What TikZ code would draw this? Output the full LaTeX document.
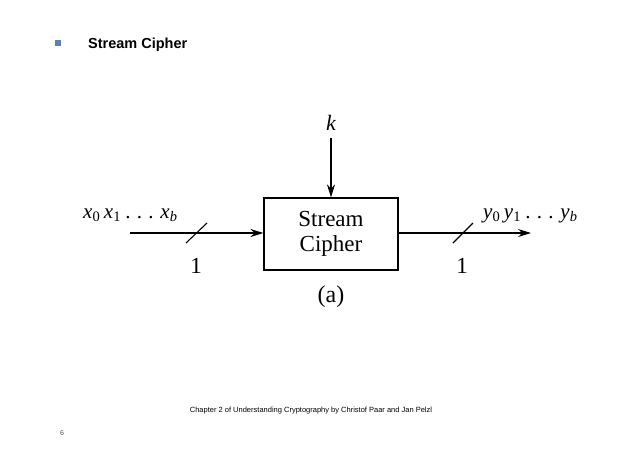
\documentclass[tikz,border=0pt]{standalone}
\usepackage{fontspec}
\setmainfont{Liberation Serif}
\newfontfamily\sansf{Liberation Sans}
\usetikzlibrary{arrows.meta}
\definecolor{bulletblue}{HTML}{5B80B8}
\newcommand\mysub[1]{\raisebox{-0.35ex}{\fontsize{14.5}{15}\selectfont #1}}
\newcommand\mydots{\hspace{0.25em}.\hspace{0.3em}.\hspace{0.3em}.\hspace{0.3em}}
\tikzset{
  conn/.style={line width=1.2pt,-{Stealth[length=13pt,width=8pt]}},
  slashmark/.style={line width=1.1pt},
  serifbig/.style={font=\fontsize{23}{26}\selectfont, inner sep=0pt},
  mathlbl/.style={font=\fontsize{21}{24}\selectfont\itshape, inner sep=0pt, anchor=base west},
  cipherbox/.style={draw, line width=1.2pt, minimum width=134pt, minimum height=72pt, inner sep=0pt}
}
\begin{document}
\begin{tikzpicture}[x=1pt,y=-1pt]
\useasboundingbox (0,0) rectangle (638,451);
% header
\fill[bulletblue] (55,40) rectangle (61,46);
\node[anchor=base west, inner sep=0pt, font=\sansf\bfseries\fontsize{14.5}{16}\selectfont] (title) at (88,48) {Stream Cipher};
% box
\node[cipherbox, align=center] (box) at (331,234) {};
\node[serifbig] (t1) at (331,219) {Stream};
\node[serifbig] (t2) at (331,246) {Cipher};
% key
\node[font=\fontsize{22}{24}\selectfont\itshape, inner sep=0pt] (k) at (331,123) {k};
\coordinate (ktop) at (331,138);
\draw[conn] (ktop) -- (box.north);
% input
\coordinate (inL) at (130,233);
\draw[conn] (inL) -- (box.west |- inL);
\coordinate (s1a) at (186,243);
\coordinate (s1b) at (207,223);
\draw[slashmark] (s1a) -- (s1b);
\node[serifbig] (one1) at (196,266) {1};
\node[mathlbl] (xl) at (83,218) {x\mysub{\upshape 0}\hspace{0.2em}x\mysub{\upshape 1}\mydots x\mysub{b}};
% output
\coordinate (outR) at (531,233);
\draw[conn] (box.east |- outR) -- (outR);
\coordinate (s2a) at (453,243);
\coordinate (s2b) at (473,223);
\draw[slashmark] (s2a) -- (s2b);
\node[serifbig] (one2) at (462,266) {1};
\node[mathlbl] (yl) at (483,218) {y\mysub{\upshape 0}\hspace{0.2em}y\mysub{\upshape 1}\mydots y\mysub{b}};
% caption
\node[font=\fontsize{24}{26}\selectfont, inner sep=0pt] (cap) at (331,297) {(a)};
% footer
\node[anchor=base, inner sep=0pt, font=\sansf\fontsize{7.5}{9}\selectfont] (foot) at (311,412) {Chapter 2 of Understanding Cryptography by Christof Paar and Jan Pelzl};
\node[anchor=base, inner sep=0pt, font=\sansf\fontsize{7}{9}\selectfont, text=black!70] (pg) at (62,435) {6};
\end{tikzpicture}
\end{document}
